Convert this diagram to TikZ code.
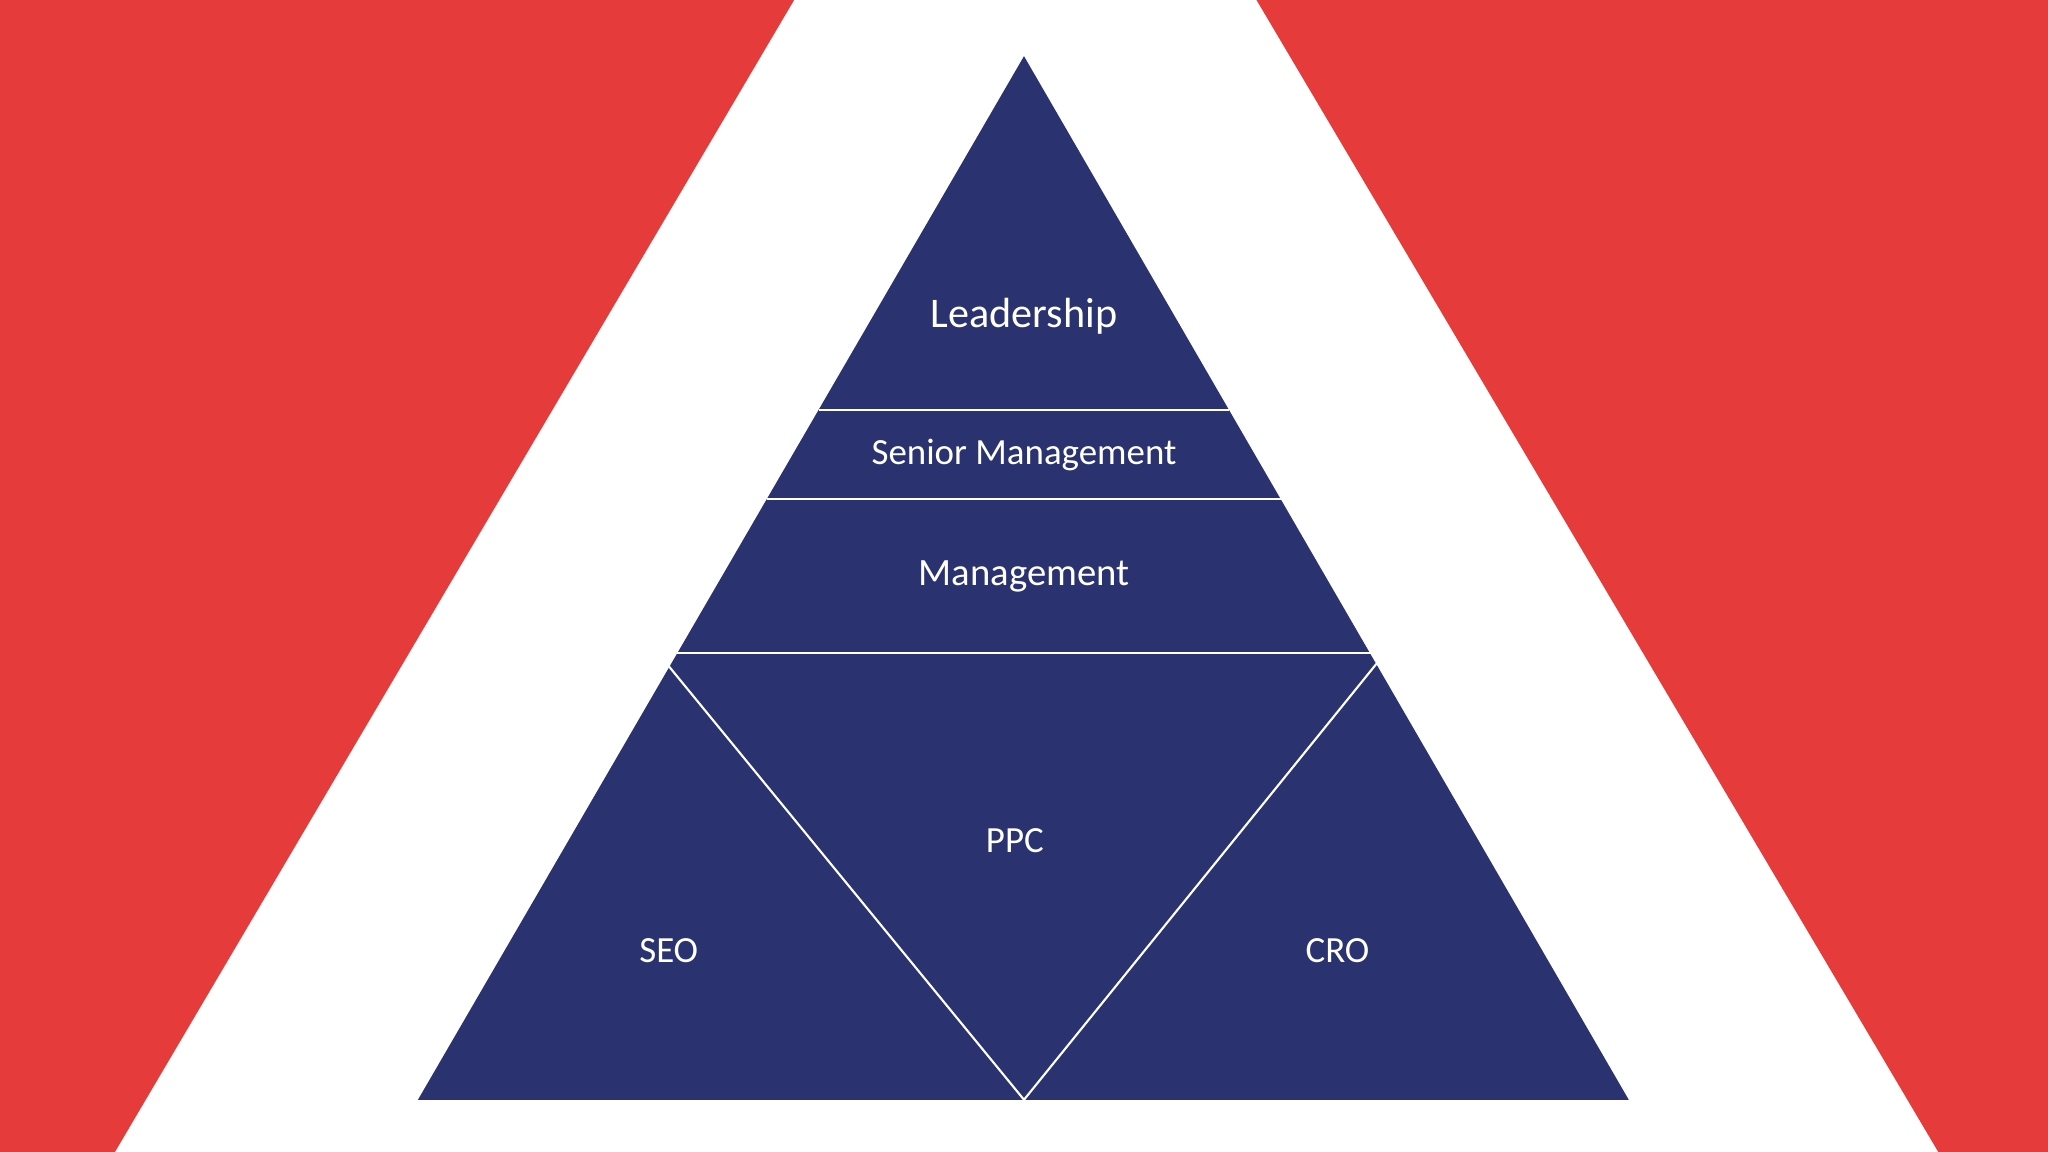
\documentclass[tikz,border=0pt]{standalone}
\usepackage{fontspec}
\setmainfont{Carlito}
\definecolor{redbg}{HTML}{E53B3A}
\definecolor{navy}{HTML}{2A336F}
\begin{document}
\begin{tikzpicture}[x=0.013061cm,y=-0.013061cm,
  lbl/.style={text=white,font=\fontsize{10.5}{12}\selectfont,inner sep=0pt},
  sep/.style={draw=white,line width=0.6pt}]
\useasboundingbox (0,0) rectangle (1568,882);
\fill[white] (0,0) rectangle (1568,882);
\fill[redbg] (0,0) -- (608,0) -- (88,882) -- (0,882) -- cycle;
\fill[redbg] (962,0) -- (1568,0) -- (1568,882) -- (1484,882) -- cycle;
\coordinate (apex) at (784,43);
\coordinate (bl) at (320,842);
\coordinate (br) at (1247,842);
\coordinate (bm) at (784,842);
\fill[navy] (apex) -- (br) -- (bl) -- cycle;
\coordinate (a1) at (627,314); \coordinate (a2) at (941,314);
\coordinate (b1) at (587,382); \coordinate (b2) at (982,382);
\coordinate (c1) at (518,500); \coordinate (c2) at (1050,500);
\coordinate (d1) at (512,510); \coordinate (d2) at (1054,508);
\draw[sep] (a1) -- (a2);
\draw[sep] (b1) -- (b2);
\draw[sep] (c1) -- (c2);
\draw[sep] (d1) -- (bm) -- (d2);
\node[lbl,font=\fontsize{12}{14}\selectfont] (lead) at (784,242) {Leadership};
\node[lbl] (sm) at (784,348) {Senior Management};
\node[lbl,font=\fontsize{11}{13}\selectfont] (mg) at (784,441) {Management};
\node[lbl] (ppc) at (777,644) {PPC};
\node[lbl] (seo) at (512,728) {SEO};
\node[lbl] (cro) at (1024,728) {CRO};
\end{tikzpicture}
\end{document}
